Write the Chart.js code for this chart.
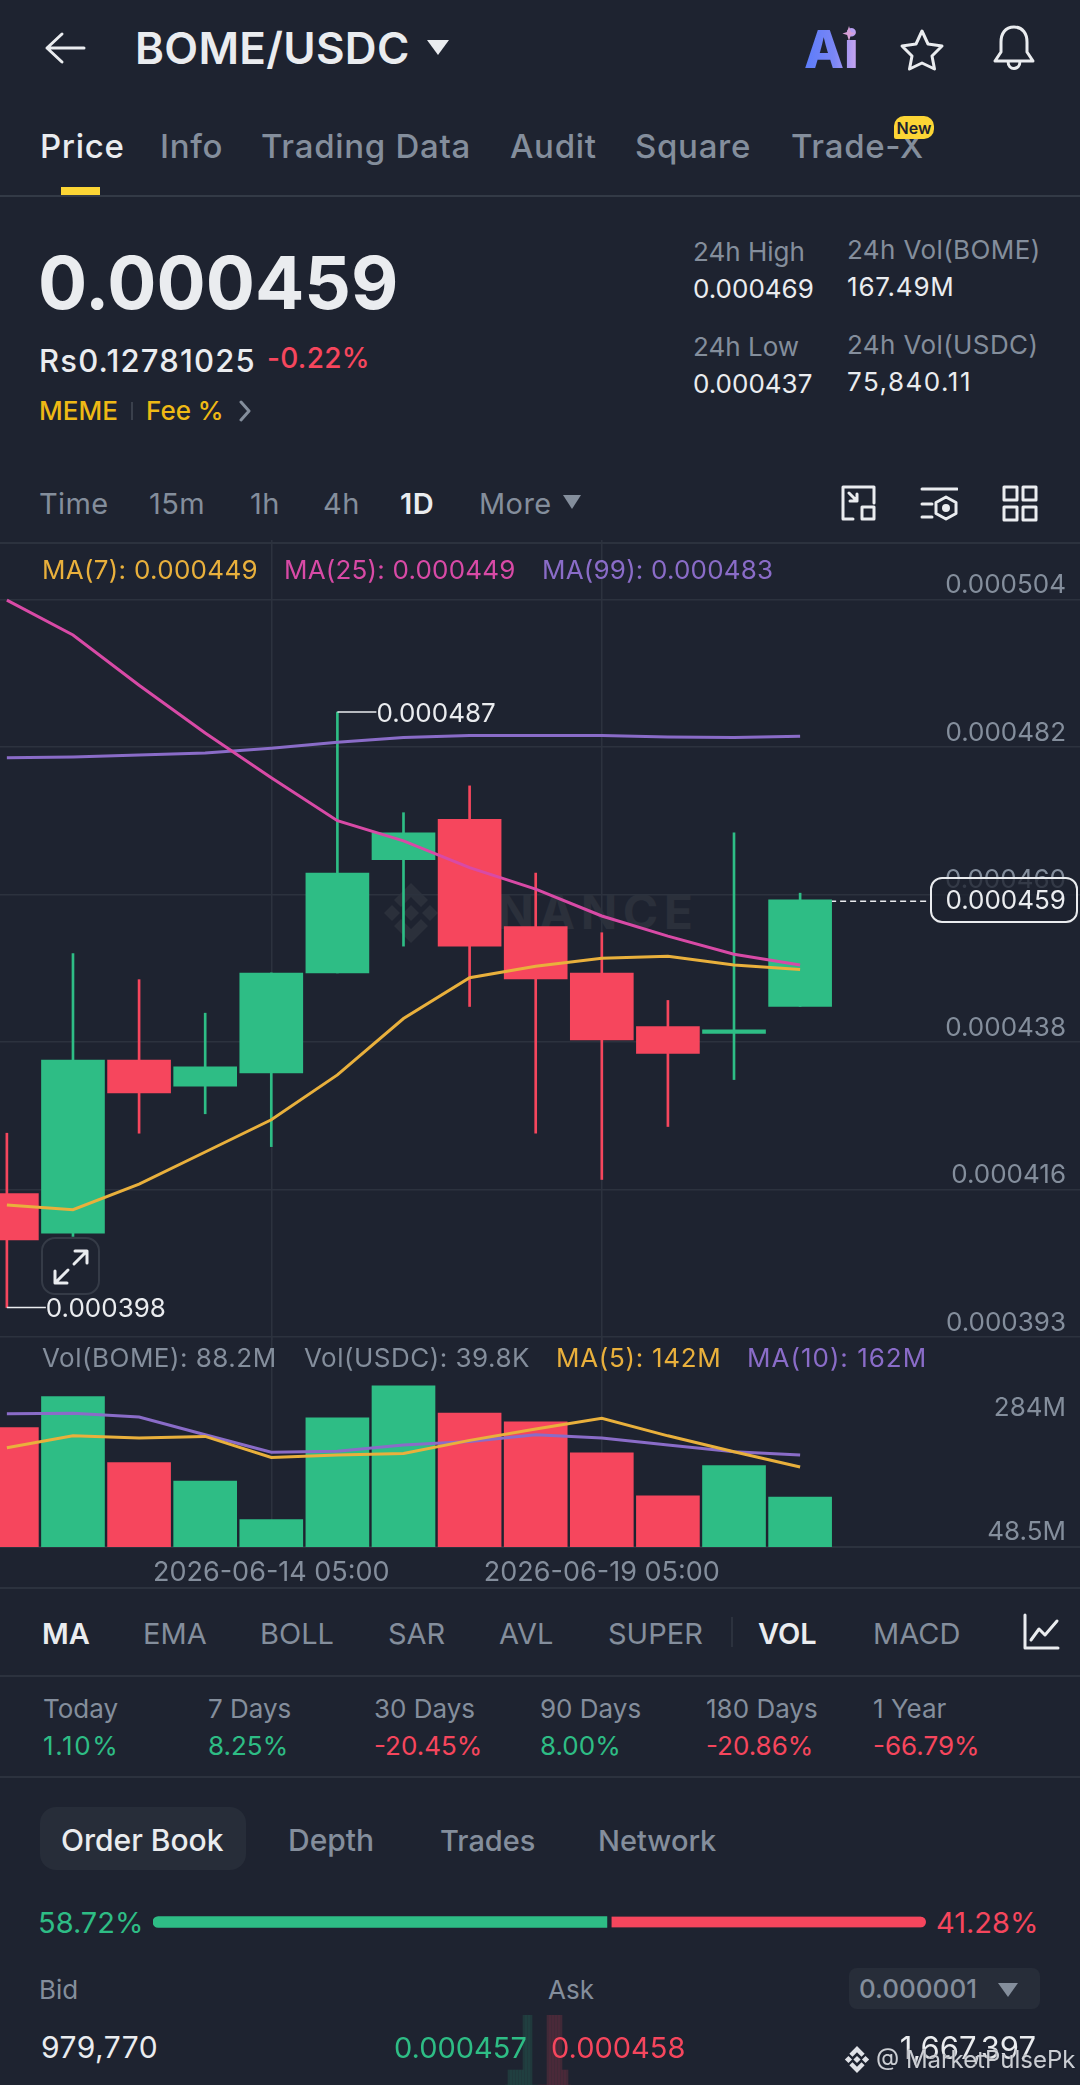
<!DOCTYPE html>
<html>
<head>
<meta charset="utf-8">
<title>BOME/USDC</title>
<script src="https://cdn.jsdelivr.net/npm/chart.js@4/dist/chart.umd.min.js"></script>
<style>
  html, body { margin: 0; padding: 0; background: #1e2330; }
  #page { position: relative; width: 1080px; height: 2085px; overflow: hidden; background: #1e2330; font-family: Inter, sans-serif; }
  #page div.t { position: absolute; white-space: nowrap; transform: translateY(-50%); line-height: 1; }
  #page canvas, #page svg, #page div.box { position: absolute; }
</style>
</head>
<body>
<div id="page">
  <canvas id="priceChart" width="1080" height="800" style="left:0;top:540px"></canvas>
  <canvas id="volChart" width="1080" height="254" style="left:0;top:1336px"></canvas>
  <canvas id="ratioChart" width="773" height="20" style="left:153px;top:1912px"></canvas>
  <canvas id="depthChart" width="66" height="70" style="left:505px;top:2015px"></canvas>
</div>

<script>
// candles, in order, index 0 is cut by the left edge
const days = ['2026-06-10 05:00', '2026-06-11 05:00', '2026-06-12 05:00', '2026-06-13 05:00', '2026-06-14 05:00',
  '2026-06-15 05:00', '2026-06-16 05:00', '2026-06-17 05:00', '2026-06-18 05:00', '2026-06-19 05:00',
  '2026-06-20 05:00', '2026-06-21 05:00', '2026-06-22 05:00'];
const open = [0.0004154, 0.0004095, 0.0004353, 0.0004314, 0.0004334, 0.0004483, 0.0004652, 0.0004712, 0.0004552, 0.0004483, 0.0004403, 0.0004393, 0.0004433];
const close = [0.0004085, 0.0004353, 0.0004304, 0.0004343, 0.0004483, 0.0004632, 0.0004692, 0.0004523, 0.0004474, 0.0004383, 0.0004363, 0.0004398, 0.0004592];
const high = [0.0004244, 0.0004512, 0.0004473, 0.0004423, 0.0004483, 0.0004872, 0.0004722, 0.0004762, 0.0004632, 0.0004543, 0.0004442, 0.0004692, 0.0004602];
const low = [0.0003984, 0.000409, 0.0004244, 0.0004273, 0.0004224, 0.0004483, 0.0004523, 0.0004433, 0.0004244, 0.0004175, 0.0004254, 0.0004324, 0.0004433];
const ma7 = [0.0004137, 0.000413, 0.0004168, 0.0004216, 0.0004264, 0.0004331, 0.0004415, 0.0004476, 0.0004493, 0.0004505, 0.0004508, 0.0004495, 0.0004488];
const ma25 = [0.0005039, 0.0004987, 0.0004912, 0.0004841, 0.0004774, 0.000471, 0.000468, 0.000464, 0.0004608, 0.0004568, 0.0004538, 0.0004511, 0.0004495];
const ma99 = [0.0004804, 0.0004805, 0.0004808, 0.0004811, 0.0004818, 0.0004827, 0.0004834, 0.0004837, 0.0004837, 0.0004837, 0.0004835, 0.0004834, 0.0004836];
const volume = [210.5, 265, 149, 116, 48.5, 227.6, 284, 236, 220.5, 166, 90, 143.5, 88.2];
const volMa5 = [175, 196, 192, 195, 158, 162, 165, 188, 208, 227, 196, 168, 141];
const volMa10 = [235, 236, 229, 198, 167, 169, 180, 186, 198, 192, 180, 168, 162];

const priceTicks = [0.000504, 0.000482, 0.00046, 0.000438, 0.000416, 0.000394];
const priceTickLabels = ['0.000504', '0.000482', '0.000460', '0.000438', '0.000416', '0.000393'];
// the app prints its volume labels away from the value they name, these values only place them
const volTicks = [245, 26.5];
const volTickLabels = ['284M', '48.5M'];
const dateTicks = [4, 9];
const lastPrice = 0.000459;
const highIdx = 5;
const lowIdx = 0;
const bookRatio = [58.72, 41.28];
// order book shadow behind the best bid/ask, one level per 3px column
const depthLevels = [0, 15, 15, 15, 15, 15, 70, 70, 70, 0, 0, 0, 0, 0, 70, 70, 70, 70, 70, 15, 15, 0];

const GREEN = '#2ebd85', RED = '#f6465d', GRID = '#2c323e', GREY = '#848e9c', WHITE = '#eaecef';
const YELLOW = '#e9b03c', PINK = '#d84aa6', PURPLE = '#8a6cc8', BG = '#1e2330';
const BODY_W = 63;

const page = document.getElementById('page');
const up = i => close[i] >= open[i];
const barColors = days.map((d, i) => up(i) ? GREEN : RED);
const xy = arr => arr.map((v, i) => ({ x: i, y: v }));

// one text label, anchored left (or right with o.right) and centred on y
function T(x, y, str, size, color, o = {}) {
  const d = document.createElement('div');
  d.className = 't';
  d.textContent = str;
  d.style.cssText = (o.right ? `right:${1080 - x}px;` : `left:${x}px;`) + `top:${y}px;font-size:${size}px;color:${color};font-weight:${o.w || 400};` + (o.ls ? `letter-spacing:${o.ls}px;` : '') + (o.css || '');
  page.appendChild(d);
  return d;
}
function box(x, y, w, h, css) {
  const d = document.createElement('div');
  d.className = 'box';
  d.style.cssText = `left:${x}px;top:${y}px;width:${w}px;height:${h}px;${css}`;
  page.appendChild(d);
}
function icon(x, y, w, h, vb, inner) {
  page.insertAdjacentHTML('beforeend', `<svg style="left:${x}px;top:${y}px" width="${w}" height="${h}" viewBox="${vb}" fill="none" stroke="${WHITE}" stroke-width="3" stroke-linejoin="round" stroke-linecap="round">${inner}</svg>`);
}
function caret(x, y, w, h, color) {
  page.insertAdjacentHTML('beforeend', `<svg style="left:${x}px;top:${y}px" width="${w}" height="${h}" viewBox="0 0 10 10" preserveAspectRatio="none"><path d="M0 0H10L5 10Z" fill="${color}"/></svg>`);
}
const DIAMOND = 'M27 0L44 17L37 24L27 14L17 24L10 17ZM8 22L16 30L8 38L0 30ZM46 22L54 30L46 38L38 30ZM27 22L35 30L27 38L19 30ZM27 60L10 43L17 36L27 46L37 36L44 43Z';

// header
icon(44, 28, 42, 40, '0 0 42 40', '<path d="M18 6L3 20L18 34M3 20H40"/>');
T(135, 48, 'BOME/USDC', 44, WHITE, { w: 600, ls: 0.3 });
caret(427, 40, 22, 15, WHITE);
T(804, 50, 'Ai', 52, 'transparent', { w: 800, css: 'background:linear-gradient(90deg,#5b7cfa,#7a86f5 55%,#d0a8ef);-webkit-background-clip:text;background-clip:text;' });
icon(842, 26, 14, 15, '0 0 14 16', '<path d="M7 0L9 6.5L14 8L9 9.5L7 16L5 9.5L0 8L5 6.5Z" fill="#d7a0d8" stroke="none"/>');
icon(899, 28, 46, 44, '0 0 46 44', '<path d="M23 3L29 16L43 18L33 28L35.500 41L23 35L10.500 41L13 28L3 18L17 16Z"/>');
icon(991, 24, 46, 48, '0 0 46 48', '<path d="M23 3C14 3 10 10 10 18V28L4 37H42L36 28V18C36 10 32 3 23 3ZM17 37C17 47 29 47 29 37"/>');

// tabs
[['Price', 40, WHITE], ['Info', 160, GREY], ['Trading Data', 261, GREY], ['Audit', 510, GREY], ['Square', 635, GREY], ['Trade-X', 791, GREY]]
  .forEach(a => T(a[1], 146, a[0], 33, a[2], { w: 500, ls: 0.7 }));
box(894, 116, 40, 23, 'background:#fcd535;border-radius:10px 10px 10px 2px');
T(914, 128, 'New', 16, '#1e2330', { w: 600, css: 'transform:translate(-50%,-50%)' });
box(61, 187, 39, 8, 'background:#fcd535');
box(0, 195, 1080, 2, 'background:#333a46');

// price block
T(38, 282, '0.000459', 73, WHITE, { w: 700 });
T(39, 360, 'Rs0.12781025', 31, WHITE, { w: 500, ls: 1.2 });
T(267, 358, '-0.22%', 28, RED, { w: 500, ls: 0.3 });
T(39, 411, 'MEME', 26, '#eeb915', { w: 500 });
box(131, 402, 2, 18, 'background:#3a404c');
T(146, 411, 'Fee %', 26, '#eeb915', { w: 500 });
icon(239, 400, 12, 22, '0 0 12 22', `<path d="M2 2L10 11L2 20" stroke="${GREY}"/>`);
T(693, 252, '24h High', 26, GREY);
T(693, 289, '0.000469', 26, WHITE);
T(847, 250, '24h Vol(BOME)', 26, GREY, { ls: 0.4 });
T(847, 287, '167.49M', 26, WHITE, { ls: 0.8 });
T(693, 347, '24h Low', 26, GREY);
T(693, 384, '0.000437', 26, WHITE);
T(847, 345, '24h Vol(USDC)', 26, GREY, { ls: 0.4 });
T(847, 382, '75,840.11', 26, WHITE, { ls: 1.5 });

// interval row
[['Time', 39], ['15m', 149], ['1h', 250], ['4h', 323], ['More', 479]].forEach(a => T(a[1], 503, a[0], 29, GREY, { ls: 0.4 }));
T(400, 503, '1D', 29, WHITE, { w: 600, ls: 0.5 });
caret(563, 495, 18, 14, GREY);
icon(841, 485, 36, 37, '0 0 36 37', '<path d="M12 34H2V2H33V18M8 8L16 16M16 9V16H9M21 22H33V34H21Z"/>');
icon(920, 485, 38, 37, '0 0 38 37', '<path d="M2 4H37M2 19H12M2 32H12M26 12L36 17.500V28.500L26 34L16 28.500V17.500Z"/><circle cx="26" cy="23" r="2.500" fill="#eaecef"/>');
icon(1002, 485, 36, 37, '0 0 36 37', '<path d="M2 2H15V15H2ZM21 2H34V15H21ZM2 22H15V35H2ZM21 22H34V35H21Z"/>');
box(0, 542, 1080, 2, `background:${GRID}`);

// chart legends
T(42, 570, 'MA(7): 0.000449', 26, YELLOW, { ls: 0.3 });
T(284, 570, 'MA(25): 0.000449', 26, PINK, { ls: 0.2 });
T(542, 570, 'MA(99): 0.000483', 26, PURPLE, { ls: 0.2 });
T(42, 1358, 'Vol(BOME): 88.2M', 26, GREY, { ls: 0.5 });
T(304, 1358, 'Vol(USDC): 39.8K', 26, GREY, { ls: 0.5 });
T(556, 1358, 'MA(5): 142M', 26, YELLOW, { ls: 0.7 });
T(747, 1358, 'MA(10): 162M', 26, PURPLE, { ls: 1 });

// watermark sits under the chart
page.insertAdjacentHTML('afterbegin', `<svg style="left:384px;top:883px" width="54" height="60" viewBox="0 0 54 60"><path d="${DIAMOND}" fill="#2b303b"/></svg>`);
const wm = T(441, 912, 'BINANCE', 48, '#2b303b', { w: 700, ls: 5.5 });
page.insertBefore(wm, page.firstChild);

// expand button
box(41, 1237, 59, 58, `box-sizing:border-box;border:2px solid #353b47;border-radius:14px;background:${BG}`);
icon(51, 1247, 40, 40, '0 0 40 40', '<path d="M24 4H36V16M36 4L23 17M4 24V36H16M4 36L17 23"/>');

// last price tag
box(930, 877, 148, 46, `box-sizing:border-box;border:2px solid ${WHITE};border-radius:12px;background:rgba(30,35,48,.78)`);
T(1066, 900, '0.000459', 26, WHITE, { right: true });

// indicator row
[['MA', 42, 1], ['EMA', 143], ['BOLL', 260], ['SAR', 388], ['AVL', 499], ['SUPER', 608], ['VOL', 758, 1], ['MACD', 873]]
  .forEach(a => T(a[1], 1633, a[0], 29, a[2] ? WHITE : GREY, { w: a[2] ? 600 : 400 }));
box(731, 1617, 2, 30, `background:${GRID}`);
icon(1022, 1613, 38, 38, '0 0 38 38', '<path d="M3 2V35H36M9 27L17 16L23 22L35 8"/>');
box(0, 1587, 1080, 2, `background:${GRID}`);
box(0, 1675, 1080, 2, `background:${GRID}`);
box(0, 1776, 1080, 2, `background:${GRID}`);

// performance row
[['Today', '1.10%', GREEN, 43, 1.6], ['7 Days', '8.25%', GREEN, 208, 0], ['30 Days', '-20.45%', RED, 374, 0],
  ['90 Days', '8.00%', GREEN, 540, 0], ['180 Days', '-20.86%', RED, 706, 0], ['1 Year', '-66.79%', RED, 873, 0]]
  .forEach(a => { T(a[3], 1709, a[0], 26, GREY); T(a[3], 1746, a[1], 26, a[2], { ls: a[4] }); });

// order book
box(40, 1807, 206, 63, 'background:#272d39;border-radius:16px');
T(61, 1840, 'Order Book', 30, WHITE, { w: 500 });
T(288, 1840, 'Depth', 30, GREY, { w: 500 });
T(440, 1840, 'Trades', 29, GREY, { w: 500 });
T(598, 1840, 'Network', 29, GREY, { w: 500 });
T(38, 1922, bookRatio[0].toFixed(2) + '%', 29, GREEN);
T(936, 1922, bookRatio[1].toFixed(2) + '%', 29, RED);
T(39, 1990, 'Bid', 26, GREY);
T(548, 1990, 'Ask', 26, GREY);
box(849, 1968, 191, 41, 'background:#272d39;border-radius:8px');
T(859, 1989, '0.000001', 26, GREY, { w: 500 });
caret(998, 1983, 20, 14, GREY);
T(41, 2047, '979,770', 30, WHITE, { ls: 0.5 });
T(394, 2047, '0.000457', 29, GREEN);
T(551, 2047, '0.000458', 29, RED);
T(1036, 2047, '1,667,397', 31, WHITE, { right: true });
page.insertAdjacentHTML('beforeend', `<svg style="left:844px;top:2046px" width="26" height="27" viewBox="0 0 54 60"><path d="${DIAMOND}" fill="#dfe1e6"/></svg>`);
T(876, 2060, '@ MarketPulsePk', 24, 'rgba(223,225,230,.9)', { css: 'text-shadow:0 0 2px #1e2330;' });

// fixed x mapping, candle 0 centre at x=6.9 and 66.1px per candle
const xMin = -0.104, xMax = 16.234;
const noPad = s => { s.paddingLeft = s.paddingRight = s.paddingTop = s.paddingBottom = 0; };
const xScale = extra => Object.assign({
  type: 'linear', min: xMin, max: xMax, offset: false, bounds: 'data',
  afterBuildTicks: s => { s.ticks = dateTicks.map(v => ({ value: v })); },
  border: { display: false },
  grid: { color: GRID, lineWidth: 1.5, offset: false, drawTicks: false }
}, extra);
const lineDs = (label, values, color) => ({ type: 'line', label, data: xy(values), borderColor: color, borderWidth: 3, pointRadius: 0, tension: 0, order: 1 });

// hi/lo markers of the visible range
const hiLoPlugin = {
  id: 'hiLo',
  afterDatasetsDraw(chart) {
    const c = chart.ctx, x = chart.scales.x, y = chart.scales.y;
    const mark = (i, v) => {
      const px = x.getPixelForValue(i), py = y.getPixelForValue(v);
      c.save();
      c.strokeStyle = WHITE; c.lineWidth = 1.5;
      c.beginPath(); c.moveTo(px, py); c.lineTo(px + 39, py); c.stroke();
      c.fillStyle = WHITE; c.font = '26px Inter'; c.textBaseline = 'middle';
      c.fillText(v.toFixed(6), px + 39, py + 2);
      c.restore();
    };
    mark(highIdx, high[highIdx]);
    mark(lowIdx, low[lowIdx]);
  }
};

new Chart(document.getElementById('priceChart'), {
  type: 'bar',
  plugins: [hiLoPlugin],
  data: {
    datasets: [
      lineDs('MA(7)', ma7, YELLOW),
      lineDs('MA(25)', ma25, PINK),
      lineDs('MA(99)', ma99, PURPLE),
      { label: 'body', data: days.map((d, i) => ({ x: i, y: [open[i], close[i]] })), backgroundColor: barColors, barThickness: BODY_W, grouped: false, order: 2 },
      { label: 'wick', data: days.map((d, i) => ({ x: i, y: [low[i], high[i]] })), backgroundColor: barColors, barThickness: 2, grouped: false, order: 3 },
      { type: 'line', label: 'last', data: [{ x: days.length - 1, y: lastPrice }, { x: 13.97, y: lastPrice }], borderColor: WHITE, borderWidth: 1.5, borderDash: [6, 4], pointRadius: 0, order: 4 }
    ]
  },
  options: {
    responsive: false, animation: false,
    layout: { padding: 0 },
    plugins: { legend: { display: false }, tooltip: { enabled: false } },
    scales: {
      x: xScale({ ticks: { display: false }, afterFit: s => { s.height = 0; noPad(s); } }),
      y: {
        position: 'right', min: 0.00039356, max: 0.00051287, bounds: 'data',
        afterBuildTicks: s => { s.ticks = priceTicks.map(v => ({ value: v })); },
        afterFit: s => { s.width = 0; noPad(s); },
        border: { display: false },
        grid: { color: GRID, lineWidth: 1.5, drawTicks: false },
        ticks: { mirror: true, padding: -14, labelOffset: -14, autoSkip: false, color: GREY, font: { family: 'Inter', size: 26 }, callback: (v, i) => priceTickLabels[i] }
      }
    }
  }
});

new Chart(document.getElementById('volChart'), {
  type: 'bar',
  data: {
    datasets: [
      lineDs('MA(5)', volMa5, YELLOW),
      lineDs('MA(10)', volMa10, PURPLE),
      { label: 'Vol', data: xy(volume), backgroundColor: barColors, barThickness: BODY_W, grouped: false, order: 2 }
    ]
  },
  options: {
    responsive: false, animation: false,
    layout: { padding: 0 },
    plugins: { legend: { display: false }, tooltip: { enabled: false } },
    scales: {
      x: xScale({
        afterFit: s => { s.height = 43; noPad(s); },
        border: { display: true, color: GRID, width: 2 },
        ticks: { autoSkip: false, maxRotation: 0, padding: 10, color: GREY, font: { family: 'Inter', size: 27 }, callback: v => days[v] }
      }),
      y: {
        position: 'right', min: 0, max: 372, bounds: 'data',
        afterBuildTicks: s => { s.ticks = volTicks.map(v => ({ value: v })); },
        afterFit: s => { s.width = 0; noPad(s); },
        border: { display: false },
        grid: { display: false },
        ticks: { mirror: true, padding: -14, autoSkip: false, color: GREY, font: { family: 'Inter', size: 26 }, callback: (v, i) => volTickLabels[i] }
      }
    }
  }
});

// bid/ask balance bar
new Chart(document.getElementById('ratioChart'), {
  type: 'bar',
  data: {
    labels: ['book'],
    datasets: [
      { data: [bookRatio[0]], backgroundColor: GREEN, barThickness: 11, borderRadius: { topLeft: 6, bottomLeft: 6 }, borderSkipped: false },
      { data: [bookRatio[1]], backgroundColor: RED, barThickness: 11, borderRadius: { topRight: 6, bottomRight: 6 }, borderSkipped: false, borderWidth: { left: 5 }, borderColor: BG }
    ]
  },
  options: {
    indexAxis: 'y', responsive: false, animation: false,
    layout: { padding: 0 },
    plugins: { legend: { display: false }, tooltip: { enabled: false } },
    scales: {
      x: { stacked: true, display: false, min: 0, max: 100 },
      y: { stacked: true, display: false }
    }
  }
});

new Chart(document.getElementById('depthChart'), {
  type: 'bar',
  data: {
    labels: depthLevels.map((v, i) => i),
    datasets: [{
      data: depthLevels,
      backgroundColor: depthLevels.map((v, i) => i < 11 ? 'rgba(46,189,133,.15)' : 'rgba(246,70,93,.17)'),
      barPercentage: 1, categoryPercentage: 1
    }]
  },
  options: {
    responsive: false, animation: false,
    layout: { padding: 0 },
    plugins: { legend: { display: false }, tooltip: { enabled: false } },
    scales: { x: { display: false }, y: { display: false, min: 0, max: 70 } }
  }
});
</script>
</body>
</html>
